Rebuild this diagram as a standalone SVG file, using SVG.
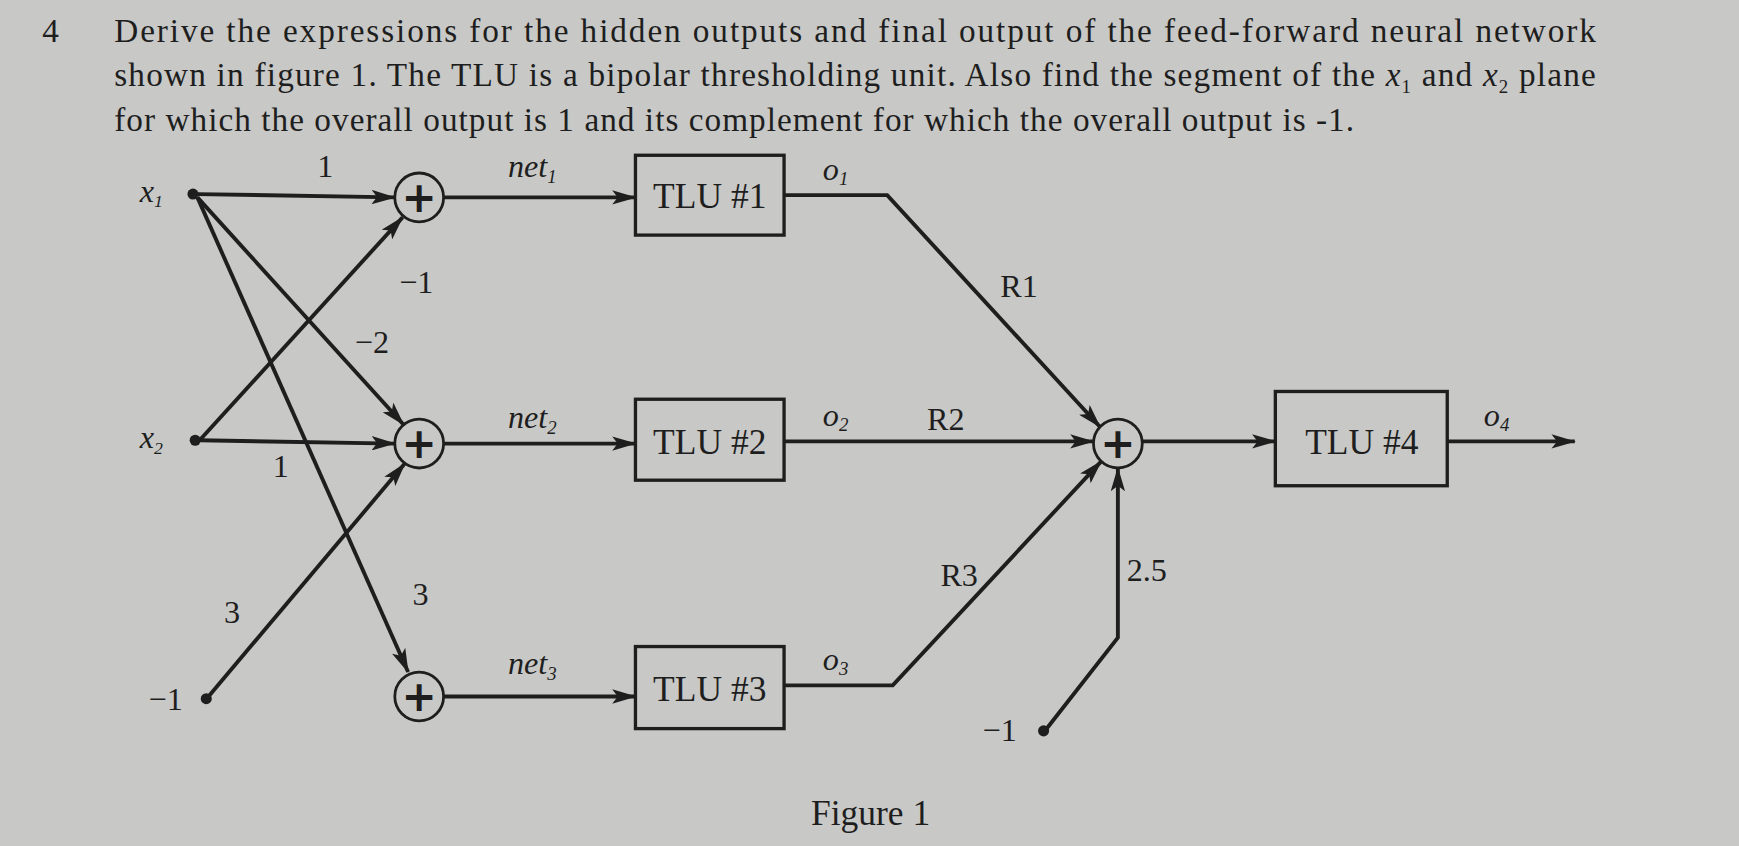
<svg xmlns="http://www.w3.org/2000/svg" width="1739" height="846" viewBox="0 0 1739 846">
<defs>
<marker id="ar" viewBox="0 0 22 13" refX="21" refY="6.5" markerWidth="22" markerHeight="13" markerUnits="userSpaceOnUse" orient="auto"><path d="M0,0 L22,6.5 L0,13 L5,6.5 Z" fill="#1e1e1e"/></marker>
</defs>
<style>
text{font-family:"Liberation Serif",serif;fill:#1e1e1e}
.t{font-size:30px}
.l{font-size:29px}
.n{font-size:32px}
.p{font-size:38px;font-family:"DejaVu Sans",sans-serif;font-weight:bold}
.i{font-style:italic}
.w{stroke:#1e1e1e;stroke-width:3.5;fill:none}
.c{stroke:#1e1e1e;stroke-width:2.5;fill:none}
.b{stroke:#1e1e1e;stroke-width:3;fill:none}
</style>
<rect width="1739" height="846" fill="#c8c8c6"/>
<g transform="scale(1.109)">
<text class="t" x="38" y="38">4</text>
<text class="t" x="103" y="38" textLength="1336" lengthAdjust="spacing">Derive the expressions for the hidden outputs and final output of the feed-forward neural network</text>
<text class="t" x="103" y="78" textLength="1336" lengthAdjust="spacing">shown in figure 1. The TLU is a bipolar thresholding unit. Also find the segment of the <tspan class="i">x</tspan><tspan font-size="17" dy="6">1</tspan><tspan dy="-6"> and </tspan><tspan class="i">x</tspan><tspan font-size="17" dy="6">2</tspan><tspan dy="-6"> plane</tspan></text>
<text class="t" x="103" y="118" textLength="1118" lengthAdjust="spacing">for which the overall output is 1 and its complement for which the overall output is -1.</text>
<g id="connectors">
<path class="w" d="M178,175 L356,178" marker-end="url(#ar)"/>
<path class="w" d="M178,178 L364,383" marker-end="url(#ar)"/>
<path class="w" d="M178,178 L368,606" marker-end="url(#ar)"/>
<path class="w" d="M180,397 L363,196" marker-end="url(#ar)"/>
<path class="w" d="M180,397 L356,400" marker-end="url(#ar)"/>
<path class="w" d="M188,628 L365,418" marker-end="url(#ar)"/>
<path class="w" d="M400,178 L573,178" marker-end="url(#ar)"/>
<path class="w" d="M400,400 L573,400" marker-end="url(#ar)"/>
<path class="w" d="M400,628 L573,628" marker-end="url(#ar)"/>
<path class="w" d="M707,176 L800,176 L992,385" marker-end="url(#ar)"/>
<path class="w" d="M707,398 L986,398" marker-end="url(#ar)"/>
<path class="w" d="M707,618 L805,618 L993,416" marker-end="url(#ar)"/>
<path class="w" d="M943,658 L1008,575 L1008,422" marker-end="url(#ar)"/>
<path class="w" d="M1030,398 L1150,398" marker-end="url(#ar)"/>
<path class="w" d="M1305,398 L1420,398" marker-end="url(#ar)"/>
</g>
<g id="x1"><circle cx="174" cy="175" r="5" fill="#1e1e1e"/><text class="l i" x="126" y="182">x<tspan font-size="16" dy="5">1</tspan></text></g>
<g id="x2"><circle cx="176" cy="397" r="5" fill="#1e1e1e"/><text class="l i" x="126" y="404">x<tspan font-size="16" dy="5">2</tspan></text></g>
<g id="bias1"><circle cx="186" cy="630" r="5" fill="#1e1e1e"/><text class="l" x="134" y="640">−1</text></g>
<g id="bias2"><circle cx="941" cy="659" r="5" fill="#1e1e1e"/><text class="l" x="886" y="668">−1</text></g>
<g id="sum1"><circle class="c" cx="378" cy="178" r="22"/><text class="p" x="378" y="191" text-anchor="middle">+</text></g>
<g id="sum2"><circle class="c" cx="378" cy="400" r="22"/><text class="p" x="378" y="413" text-anchor="middle">+</text></g>
<g id="sum3"><circle class="c" cx="378" cy="628" r="22"/><text class="p" x="378" y="641" text-anchor="middle">+</text></g>
<g id="sum4"><circle class="c" cx="1008" cy="400" r="22"/><text class="p" x="1008" y="413" text-anchor="middle">+</text></g>
<g id="tlu1"><rect class="b" x="573" y="140" width="134" height="72"/><text class="n" x="640" y="188" text-anchor="middle">TLU #1</text></g>
<g id="tlu2"><rect class="b" x="573" y="360" width="134" height="73"/><text class="n" x="640" y="409" text-anchor="middle">TLU #2</text></g>
<g id="tlu3"><rect class="b" x="573" y="583" width="134" height="74"/><text class="n" x="640" y="632" text-anchor="middle">TLU #3</text></g>
<g id="tlu4"><rect class="b" x="1150" y="353" width="155" height="85"/><text class="n" x="1228" y="409" text-anchor="middle">TLU #4</text></g>
<g id="labels">
<text class="l" x="286" y="160">1</text>
<text class="l" x="360" y="264">−1</text>
<text class="l" x="320" y="318">−2</text>
<text class="l" x="246" y="430">1</text>
<text class="l" x="372" y="546">3</text>
<text class="l" x="202" y="562">3</text>
<text class="l i" x="458" y="160">net<tspan font-size="17" dy="5">1</tspan></text>
<text class="l i" x="458" y="386">net<tspan font-size="17" dy="5">2</tspan></text>
<text class="l i" x="458" y="608">net<tspan font-size="17" dy="5">3</tspan></text>
<text class="l i" x="742" y="162">o<tspan font-size="17" dy="5">1</tspan></text>
<text class="l i" x="742" y="384">o<tspan font-size="17" dy="5">2</tspan></text>
<text class="l i" x="742" y="604">o<tspan font-size="17" dy="5">3</tspan></text>
<text class="l i" x="1338" y="384">o<tspan font-size="17" dy="5">4</tspan></text>
<text class="l" x="902" y="268">R1</text>
<text class="l" x="836" y="388">R2</text>
<text class="l" x="848" y="528">R3</text>
<text class="l" x="1016" y="524">2.5</text>
<text class="n" x="785" y="744" text-anchor="middle">Figure 1</text>
</g>
</g>
</svg>
